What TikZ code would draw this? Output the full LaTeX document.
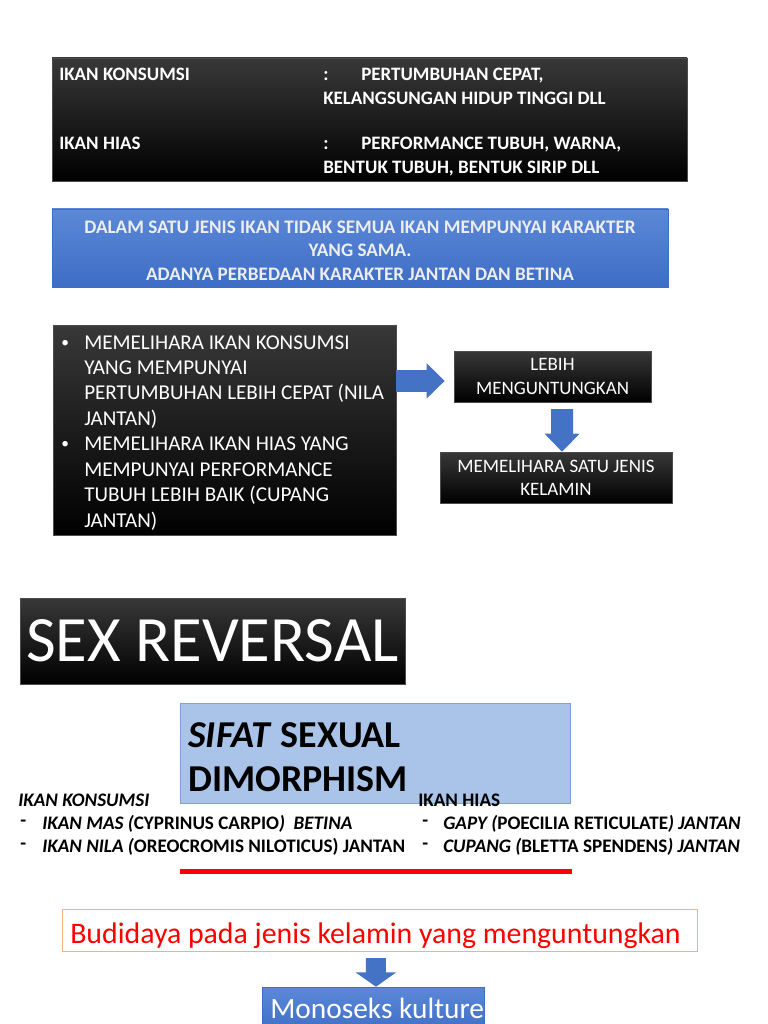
\documentclass[tikz,border=0pt]{standalone}
\usepackage{fontspec}
\setmainfont{Carlito}
\usepackage{tikz}
\usetikzlibrary{fit, positioning, arrows.meta}
\definecolor{slideblue}{HTML}{4472C4}
\definecolor{bannertop}{HTML}{5C88D7}
\definecolor{bannerbot}{HTML}{3D6DC5}
\definecolor{paleblue}{HTML}{A9C4E8}
\definecolor{paleline}{HTML}{7FA1D6}
\definecolor{slidered}{HTML}{FF0000}
\definecolor{peach}{HTML}{F4B183}
\definecolor{softwhite}{HTML}{EDEDED}
\tikzset{
  blackbox/.style={inner sep=0pt, top color=black!78, middle color=black, bottom color=black, draw=black!70},
  bannerbox/.style={inner sep=0pt, top color=bannertop, bottom color=bannerbot, draw=bannerbot},
  txt/.style={inner sep=0pt, anchor=base west},
  toptxt/.style={txt, text=white, font=\fontsize{13.5}{16}\selectfont\bfseries},
  keeptxt/.style={txt, text=white, font=\fontsize{15}{18}\selectfont},
  smalltxt/.style={inner sep=0pt, text=white, align=center, font=\fontsize{13.5}{16.4}\selectfont},
  listtxt/.style={txt, font=\fontsize{13.6}{16}\selectfont\bfseries},
  barrow/.style={draw=slideblue, line width=0.55cm, -{Triangle[length=0.45cm, width=0.85cm]}},
}
\begin{document}
\begin{tikzpicture}[x=0.025cm, y=-0.025cm]
\useasboundingbox (0,0) rectangle (768,1024);
\clip (0,0) rectangle (768,1024);
\fill[white] (0,0) rectangle (768,1024);

% top block
\node[blackbox, fit={(52,58) (687,181)}] (crit) {};
\node[toptxt] (kons) at (59,80.5) {IKAN KONSUMSI};
\node[toptxt] (konscol) at (323,80.5) {:};
\node[toptxt] (konsa) at (361,80.5) {PERTUMBUHAN CEPAT,};
\node[toptxt] (konsb) at (323,104.5) {KELANGSUNGAN HIDUP TINGGI DLL};
\node[toptxt] (hias) at (59,149.5) {IKAN HIAS};
\node[toptxt] (hiascol) at (323,149.5) {:};
\node[toptxt] (hiasa) at (361,149.5) {PERFORMANCE TUBUH, WARNA,};
\node[toptxt] (hiasb) at (323,173.5) {BENTUK TUBUH, BENTUK SIRIP DLL};

% banner
\node[bannerbox, fit={(52,209) (668,287)}] (beda) {};
\node[inner sep=0pt, text=softwhite, align=center, font=\fontsize{13.6}{16.7}\selectfont\bfseries] (bedatxt) at ([yshift=-0.06cm]beda.center)
  {DALAM SATU JENIS IKAN TIDAK SEMUA IKAN MEMPUNYAI KARAKTER\\YANG SAMA.\\ADANYA PERBEDAAN KARAKTER JANTAN DAN BETINA};

% keep block
\node[blackbox, fit={(53,325) (396,535)}] (keep) {};
\node[keeptxt, font=\fontsize{11}{13}\selectfont] (bulla) at (61,347) {\textbullet};
\node[keeptxt, font=\fontsize{11}{13}\selectfont] (bullb) at (61,448.7) {\textbullet};
\foreach \t [count=\i from 0] in {{MEMELIHARA IKAN KONSUMSI}, {YANG MEMPUNYAI},
    {PERTUMBUHAN LEBIH CEPAT (NILA}, {JANTAN)}, {MEMELIHARA IKAN HIAS YANG},
    {MEMPUNYAI PERFORMANCE}, {TUBUH LEBIH BAIK (CUPANG}, {JANTAN)}}
  \node[keeptxt] (keep\i) at (84,349+25.43*\i) {\t};

\node[blackbox, fit={(454,351) (651,402)}] (lebih) {};
\node[smalltxt] (lebihtxt) at (lebih) {LEBIH\\MENGUNTUNGKAN};
\node[blackbox, fit={(440,452) (672,503)}] (satu) {};
\node[smalltxt] (satutxt) at (satu) {MEMELIHARA SATU JENIS\\KELAMIN};

\draw[barrow, shorten >=0.225cm] ([yshift=-0.11cm]keep.east |- lebih.west) -- ([yshift=-0.11cm]lebih.west);
\draw[barrow, shorten <=0.17cm] ([xshift=0.24cm]lebih.south) -- ([xshift=0.15cm]satu.north);

% sex reversal
\node[blackbox, fit={(20,598) (405,684)}] (sexrev) {};
\node[inner sep=0pt, text=white, font=\fontsize{46}{50}\selectfont] (sexrevtxt) at (sexrev) {SEX REVERSAL};

\node[fill=paleblue, draw=paleline, inner sep=0pt, fit={(180,703) (570,803)}] (sifat) {};
\node[txt, font=\fontsize{27}{31}\selectfont\bfseries] (sifata) at (188,747) {\textit{SIFAT} SEXUAL};
\node[txt, font=\fontsize{27}{31}\selectfont\bfseries] (sifatb) at (188,791) {DIMORPHISM};

% examples
\node[listtxt] (konshead) at (18,806.5) {\textit{IKAN KONSUMSI}};
\node[listtxt] (dasha) at (20,826) {-};
\node[listtxt] (mas) at (42,829.5) {\textit{IKAN MAS (}CYPRINUS CARPIO\textit{)\ \ BETINA}};
\node[listtxt] (dashb) at (20,849) {-};
\node[listtxt] (nila) at (42,852.5) {\textit{IKAN NILA (}OREOCROMIS NILOTICUS) JANTAN};
\node[listtxt] (hiashead) at (418,806.5) {IKAN HIAS};
\node[listtxt] (dashc) at (422,826) {-};
\node[listtxt] (gapy) at (443,829.5) {\textit{GAPY (}POECILIA RETICULATE\textit{) JANTAN}};
\node[listtxt] (dashd) at (422,849) {-};
\node[listtxt] (cupang) at (443,852.5) {\textit{CUPANG (}BLETTA SPENDENS\textit{) JANTAN}};

\draw[slidered, line width=0.125cm] (180,871) -- (572,871);

% result
\node[draw=peach, fill=white, inner sep=0pt, fit={(62,909) (697,951)}] (budi) {};
\node[txt, text=slidered, font=\fontsize{21.2}{25}\selectfont] (buditxt) at (70,943) {Budidaya pada jenis kelamin yang menguntungkan};
\node[bannerbox, fit={(262,987) (484,1034)}] (mono) {};
\node[txt, text=white, font=\fontsize{20.9}{24}\selectfont] (monotxt) at (270,1018) {Monoseks kulture};
\draw[barrow, line width=0.5cm, -{Triangle[length=0.36cm, width=1cm]}, shorten <=0.17cm]
  ([xshift=-0.09cm]budi.south) -- ([xshift=0.075cm]mono.north);
\end{tikzpicture}
\end{document}
